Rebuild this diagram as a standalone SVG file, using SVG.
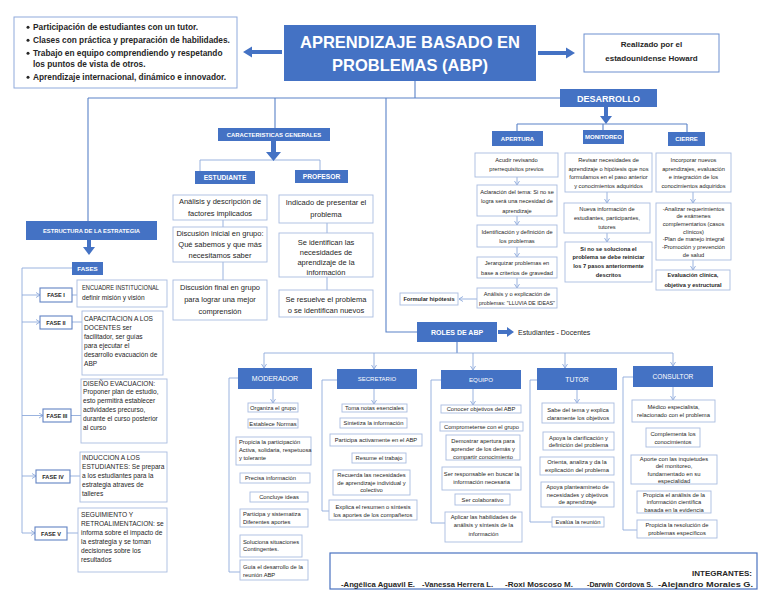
<svg xmlns="http://www.w3.org/2000/svg" width="768" height="594" viewBox="0 0 768 594">
<defs>
<style>
text{font-family:'Liberation Sans',Arial,sans-serif;fill:#262626}
.c{text-anchor:middle}
.w{fill:#fff;font-weight:bold}
.b{font-weight:bold}
.bx{fill:#fff;stroke:#a9bce0;stroke-width:0.9}
.fb{fill:#fff;stroke:#6283c4;stroke-width:1.1}
.hd{fill:#4472c4}
.ml{fill:none;stroke:#5a82c8;stroke-width:1.1}
.ln{fill:none;stroke:#8eaadb;stroke-width:0.9}
.ta{fill:#4472c4}
.s75{font-size:7.5px}
.s6{font-size:5.7px}
.s66{font-size:6.6px}
.s58{font-size:5.8px}
</style>
<marker id="ah" markerWidth="6" markerHeight="6" refX="5" refY="3" orient="auto" markerUnits="userSpaceOnUse">
<path d="M1,0.5 L5,3 L1,5.5" fill="none" stroke="#8eaadb" stroke-width="0.9"/>
</marker>
</defs>
<rect width="768" height="594" fill="#fff"/>

<g id="connectors">
<path class="ml" d="M415,81 V98 M88,98 H560 M88,98 V221 M275,98 V128 M386,98 V332 H417"/>
<path class="ml" d="M517,124 H687 M517,124 V131 M603,124 V130 M687,124 V132"/>
<path class="ln" d="M200,160 H320 M200,160 V171 M320,160 V170 M223,220 V227 M223,262 V280 M327,223 V233 M327,277 V290"/>
<path class="ln" marker-end="url(#ah)" d="M517,177 V185"/>
<path class="ln" marker-end="url(#ah)" d="M517,216 V225"/>
<path class="ln" marker-end="url(#ah)" d="M517,247 V257"/>
<path class="ln" marker-end="url(#ah)" d="M517,278 V288"/>
<path class="ln" marker-end="url(#ah)" d="M477,299 H459"/>
<path class="ln" marker-end="url(#ah)" d="M607,192 V203"/>
<path class="ln" marker-end="url(#ah)" d="M607,233 V242"/>
<path class="ln" marker-end="url(#ah)" d="M693,192 V203"/>
<path class="ln" marker-end="url(#ah)" d="M693,260 V270"/>
<path class="ln" d="M72,268 H22 V533"/>
<path class="ln" marker-end="url(#ah)" d="M22,295 H40"/>
<path class="ln" marker-end="url(#ah)" d="M22,322 H40"/>
<path class="ln" marker-end="url(#ah)" d="M22,415.5 H43"/>
<path class="ln" marker-end="url(#ah)" d="M22,476 H36"/>
<path class="ln" marker-end="url(#ah)" d="M22,533 H35"/>
<path class="ln" d="M72,295 H77 M72,322 H82 M71,415.5 H81 M70,476 H80 M67,533 H78"/>
<path class="ml" d="M457,342 V353"/>
<path class="ln" d="M264,353 H673"/>
<path class="ln" marker-end="url(#ah)" d="M264,353 V368"/>
<path class="ln" marker-end="url(#ah)" d="M374,353 V369"/>
<path class="ln" marker-end="url(#ah)" d="M473,353 V370"/>
<path class="ln" marker-end="url(#ah)" d="M565,353 V368"/>
<path class="ln" marker-end="url(#ah)" d="M673,353 V366"/>
<path class="ln" marker-end="url(#ah)" d="M273,389 V403"/>
<path class="ln" marker-end="url(#ah)" d="M374,389 V404"/>
<path class="ln" marker-end="url(#ah)" d="M473,389 V405"/>
<path class="ln" marker-end="url(#ah)" d="M577,390 V403"/>
<path class="ln" marker-end="url(#ah)" d="M673,387 V400"/>
<path class="ln" d="M238,378 H229 V572 H240 M337,380 H322 V511 H329 M441,380 H431 V523 H445 M537,380 H530 V522 H552 M633,377 H623 V530 H637"/>
<path class="ta" d="M282,50 H252 V46.5 L243,52 L252,57.5 V54 H282 Z"/>
<path class="ta" d="M538,51 H566 V47.5 L575,53 L566,58.5 V55 H538 Z"/>
<path class="ta" d="M604,107 H608 V116 H612 L606,124 L600,116 H604 Z"/>
<path class="ta" d="M271,141 H276 V152 H281 L273.5,161 L266,152 H271 Z"/>
<path class="ta" d="M87,240 H91 V247 H95 L89,255 L83,247 H87 Z"/>
<path class="ta" d="M498,330 H507 V327 L514,332 L507,337 V334 H498 Z"/>
</g>

<g id="intro">
<rect x="14" y="17" width="223" height="71" fill="#fff" stroke="#8faadc" stroke-width="1"/>
<g font-size="8.3" class="b">
<circle cx="28" cy="27.2" r="1.5" fill="#262626"/><text x="33" y="30" class="b">Participación de estudiantes con un tutor.</text>
<circle cx="28" cy="40.2" r="1.5" fill="#262626"/><text x="33" y="43" class="b">Clases con práctica y preparación de habilidades.</text>
<circle cx="28" cy="53.2" r="1.5" fill="#262626"/><text x="33" y="56" class="b">Trabajo en equipo comprendiendo y respetando</text>
<text x="33" y="67" class="b">los puntos de vista de otros.</text>
<circle cx="28" cy="77.2" r="1.5" fill="#262626"/><text x="33" y="80" class="b">Aprendizaje internacional, dinámico e innovador.</text>
</g>
</g>

<g id="title">
<rect x="284" y="25" width="252" height="56" class="hd"/>
<text x="410" y="47.5" class="c w" font-size="16.5">APRENDIZAJE BASADO EN</text>
<text x="410" y="70.5" class="c w" font-size="16.5">PROBLEMAS (ABP)</text>
</g>

<g id="autor">
<rect x="584" y="34" width="135" height="38" fill="#fff" stroke="#6d8fcf" stroke-width="1"/>
<text x="651.5" y="46.5" class="c b" font-size="8">Realizado por el</text>
<text x="651.5" y="61" class="c b" font-size="8">estadounidense Howard</text>
</g>

<g id="desarrollo">
<rect x="560" y="89" width="97" height="18" class="hd"/>
<text x="608.5" y="101.5" class="c w" font-size="9">DESARROLLO</text>
</g>
<g id="apertura">
<rect x="492" y="131" width="51" height="15" class="hd"/>
<text x="517.5" y="140.8" class="c w" font-size="6">APERTURA</text>
</g>
<g id="monitoreo">
<rect x="583" y="130" width="41" height="14" class="hd"/>
<text x="603.5" y="139.3" class="c w" font-size="6">MONITOREO</text>
</g>
<g id="cierre">
<rect x="668" y="132" width="37" height="14" class="hd"/>
<text x="686.5" y="141.3" class="c w" font-size="6">CIERRE</text>
</g>

<g id="a1"><rect x="475" y="153" width="83" height="24" class="bx"/>
<text class="c s6" x="516.5" y="162">Acudir revisando</text><text class="c s6" x="516.5" y="171">prerrequisitos previos</text></g>
<g id="a2"><rect x="477" y="185" width="80" height="31" class="bx"/>
<text class="c s6" x="517" y="193.7">Aclaración del tema: Si no se</text><text class="c s6" x="517" y="203.2">logra será una necesidad de</text><text class="c s6" x="517" y="212.7">aprendizaje</text></g>
<g id="a3"><rect x="477" y="225" width="80" height="22" class="bx"/>
<text class="c s6" x="517" y="233.7">Identificación y definición de</text><text class="c s6" x="517" y="243">los problemas</text></g>
<g id="a4"><rect x="477" y="257" width="80" height="21" class="bx"/>
<text class="c s6" x="517" y="265.3">Jerarquizar problemas en</text><text class="c s6" x="517" y="274.7">base a criterios de gravedad</text></g>
<g id="a5"><rect x="477" y="288" width="80" height="20" class="bx"/>
<text class="c s6" x="517" y="296">Análisis y o explicación de</text><text class="c s6" x="517" y="305.3" textLength="76" lengthAdjust="spacingAndGlyphs">problemas: "LLUVIA DE IDEAS"</text></g>
<g id="hipotesis"><rect x="400" y="293" width="58" height="12" class="bx"/>
<text class="c b" font-size="5.7" x="429" y="301">Formular hipótesis</text></g>

<g id="m1"><rect x="565" y="153" width="87" height="39" class="bx"/>
<text class="c s6" x="608.5" y="162">Revisar necesidades de</text><text class="c s6" x="608.5" y="170.7">aprendizaje o hipótesis que nos</text><text class="c s6" x="608.5" y="179.4">formulamos en el paso anterior</text><text class="c s6" x="608.5" y="188.1">y conocimientos adquiridos</text></g>
<g id="m2"><rect x="564" y="203" width="86" height="30" class="bx"/>
<text class="c s6" x="607" y="210.5">Nueva información de</text><text class="c s6" x="607" y="219.5">estudiantes, participantes,</text><text class="c s6" x="607" y="228.5">tutores</text></g>
<g id="m3"><rect x="565" y="242" width="87" height="40" class="bx"/>
<text class="c b s6" x="608.5" y="250.5">Si no se soluciona el</text><text class="c b s6" x="608.5" y="259.3">problema se debe reiniciar</text><text class="c b s6" x="608.5" y="268.1">los 7 pasos anteriormente</text><text class="c b s6" x="608.5" y="276.9">descritos</text></g>

<g id="c1"><rect x="656" y="153" width="75" height="39" class="bx"/>
<text class="c s6" x="693.5" y="162">Incorporar nuevos</text><text class="c s6" x="693.5" y="170.7">aprendizajes, evaluación</text><text class="c s6" x="693.5" y="179.4">e integración de los</text><text class="c s6" x="693.5" y="188.1">conocimientos adquiridos</text></g>
<g id="c2"><rect x="656" y="203" width="75" height="57" class="bx"/>
<text class="c s6" x="693.5" y="210.5">-Analizar requerimientos</text><text class="c s6" x="693.5" y="218.2">de exámenes</text><text class="c s6" x="693.5" y="225.9">complementarios (casos</text><text class="c s6" x="693.5" y="233.6">clínicos)</text><text class="c s6" x="693.5" y="241.3">-Plan de manejo integral</text><text class="c s6" x="693.5" y="249">-Promoción y prevención</text><text class="c s6" x="693.5" y="256.7">de salud</text></g>
<g id="c3"><rect x="656" y="270" width="74" height="20" class="bx"/>
<text class="c b s6" x="693" y="277.2">Evaluación clínica,</text><text class="c b s6" x="693" y="287">objetiva y estructural</text></g>

<g id="caracteristicas">
<rect x="218" y="128" width="112" height="13" class="hd"/>
<text x="274" y="136.7" class="c w" font-size="5.9">CARACTERISTICAS GENERALES</text>
</g>
<g id="estudiante">
<rect x="195" y="171" width="60" height="13" class="hd"/>
<text x="225" y="179.8" class="c w" font-size="6.7">ESTUDIANTE</text>
</g>
<g id="profesor">
<rect x="295" y="170" width="53" height="13" class="hd"/>
<text x="321.5" y="178.8" class="c w" font-size="6.7">PROFESOR</text>
</g>
<g id="e1"><rect x="173" y="195" width="94" height="25" class="bx"/>
<text class="c s75" x="220" y="204.4">Análisis y descripción de</text><text class="c s75" x="220" y="216.4">factores implicados</text></g>
<g id="e2"><rect x="173" y="227" width="94" height="35" class="bx"/>
<text class="c s75" x="220" y="236">Discusión inicial en grupo:</text><text class="c s75" x="220" y="247">Qué sabemos y que más</text><text class="c s75" x="220" y="258">necesitamos saber</text></g>
<g id="e3"><rect x="173" y="280" width="94" height="40" class="bx"/>
<text class="c s75" x="220" y="289.6">Discusión final en grupo</text><text class="c s75" x="220" y="301.6">para lograr una mejor</text><text class="c s75" x="220" y="313.6">comprensión</text></g>
<g id="p1"><rect x="279" y="195" width="94" height="28" class="bx"/>
<text class="c s75" x="326" y="204.5">Indicado de presentar el</text><text class="c s75" x="326" y="216.8">problema</text></g>
<g id="p2"><rect x="279" y="233" width="94" height="44" class="bx"/>
<text class="c s75" x="326" y="244.6">Se identifican las</text><text class="c s75" x="326" y="254.6">necesidades de</text><text class="c s75" x="326" y="264.6">aprendizaje de la</text><text class="c s75" x="326" y="274.6">información</text></g>
<g id="p3"><rect x="279" y="290" width="94" height="27" class="bx"/>
<text class="c s75" x="326" y="301.6">Se resuelve el problema</text><text class="c s75" x="326" y="313.2">o se identifican nuevos</text></g>

<g id="estructura">
<rect x="26" y="221" width="131" height="19" class="hd"/>
<text x="91.5" y="232.5" class="c w" font-size="5.8">ESTRUCTURA DE LA ESTRATEGIA</text>
</g>
<g id="fases">
<rect x="72" y="262" width="31" height="13" class="hd"/>
<text x="87.5" y="270.7" class="c w" font-size="6.2">FASES</text>
</g>
<g id="fase1"><rect x="40" y="288" width="32" height="14" class="fb"/><text class="c b" font-size="5.6" x="56" y="297">FASE I</text></g>
<g id="fase2"><rect x="40" y="316" width="32" height="13" class="fb"/><text class="c b" font-size="5.6" x="56" y="324.5">FASE II</text></g>
<g id="fase3"><rect x="43" y="409" width="28" height="13" class="fb"/><text class="c b" font-size="5.6" x="57" y="417.5">FASE III</text></g>
<g id="fase4"><rect x="36" y="470" width="34" height="13" class="fb"/><text class="c b" font-size="5.6" x="53" y="478.5">FASE IV</text></g>
<g id="fase5"><rect x="35" y="527" width="32" height="13" class="fb"/><text class="c b" font-size="5.6" x="51" y="535.5">FASE V</text></g>

<g id="ft1"><rect x="77" y="280" width="90" height="27" class="bx"/>
<text class="s66" x="82" y="290" textLength="77" lengthAdjust="spacingAndGlyphs">ENCUADRE INSTITUCIONAL</text><text class="s66" x="82" y="299.6">definir misión y visión</text></g>
<g id="ft2"><rect x="82" y="311" width="81" height="64" class="bx"/>
<text class="s66" x="84" y="320.6">CAPACITACION A LOS</text><text class="s66" x="84" y="329.6">DOCENTES ser</text><text class="s66" x="84" y="338.6">facilitador, ser guías</text><text class="s66" x="84" y="347.6">para ejecutar el</text><text class="s66" x="84" y="356.6">desarrollo evacuación de</text><text class="s66" x="84" y="365.6">ABP</text></g>
<g id="ft3"><rect x="81" y="379" width="86" height="64" class="bx"/>
<text class="s66" x="83" y="385.6">DISEÑO EVACUACION:</text><text class="s66" x="83" y="394.4">Proponer plan de estudio,</text><text class="s66" x="83" y="403.2">esto permitirá establecer</text><text class="s66" x="83" y="412">actividades  precurso,</text><text class="s66" x="83" y="420.8">durante el curso posterior</text><text class="s66" x="83" y="429.6">al curso</text></g>
<g id="ft4"><rect x="80" y="452" width="87" height="50" class="bx"/>
<text class="s66" x="82" y="459.6">INDUCCION A LOS</text><text class="s66" x="82" y="468.6">ESTUDIANTES: Se prepara</text><text class="s66" x="82" y="477.6">a los estudiantes para la</text><text class="s66" x="82" y="486.6">estrategia atraves de</text><text class="s66" x="82" y="495.6">talleres</text></g>
<g id="ft5"><rect x="78" y="508" width="89" height="64" class="bx"/>
<text class="s66" x="81" y="517.3">SEGUIMIENTO Y</text><text class="s66" x="81" y="526.3">RETROALIMENTACION: se</text><text class="s66" x="81" y="535.3">informa sobre el impacto de</text><text class="s66" x="81" y="544.3">la estrategia y se toman</text><text class="s66" x="81" y="553.3">decisiones sobre los</text><text class="s66" x="81" y="562.3">resultados</text></g>

<g id="roles">
<rect x="417" y="322" width="80" height="20" class="hd"/>
<text x="457" y="334.5" class="c w" font-size="7">ROLES DE ABP</text>
<text x="518" y="335" font-size="7">Estudiantes - Docentes</text>
</g>

<g id="moderador"><rect x="238" y="368" width="74" height="21" class="hd"/><text x="275" y="381" class="c" style="fill:#fff" font-size="7">MODERADOR</text></g>
<g id="secretario"><rect x="337" y="369" width="80" height="20" class="hd"/><text x="377" y="381" class="c" style="fill:#fff" font-size="6">SECRETARIO</text></g>
<g id="equipo"><rect x="441" y="370" width="80" height="19" class="hd"/><text x="481" y="381.8" class="c" style="fill:#fff" font-size="6.2">EQUIPO</text></g>
<g id="tutor"><rect x="537" y="368" width="80" height="22" class="hd"/><text x="577" y="381.5" class="c" style="fill:#fff" font-size="6.8">TUTOR</text></g>
<g id="consultor"><rect x="633" y="366" width="80" height="21" class="hd"/><text x="673" y="379" class="c" style="fill:#fff" font-size="6.6">CONSULTOR</text></g>

<g id="mo1"><rect x="248" y="403" width="50" height="9" class="bx"/><text class="c s58" x="273" y="409.6">Organiza el grupo</text></g>
<g id="mo2"><rect x="248" y="419" width="50" height="9" class="bx"/><text class="c s58" x="273" y="425.6">Establece Normas</text></g>
<g id="mo3"><rect x="236" y="437" width="75" height="28" class="bx"/><text class="s58" x="239" y="443.7">Propicia la participación</text><text class="s58" x="239" y="452">Activa, solidaria, respetuosa</text><text class="s58" x="239" y="460.3">y tolerante</text></g>
<g id="mo4"><rect x="240" y="473" width="70" height="10" class="bx"/><text class="s58" x="245" y="480">Precisa información</text></g>
<g id="mo5"><rect x="250" y="492" width="58" height="10" class="bx"/><text class="c s58" x="279" y="499">Concluye ideas</text></g>
<g id="mo6"><rect x="240" y="509" width="68" height="18" class="bx"/><text class="s58" x="243" y="516.2">Participa y sistematiza</text><text class="s58" x="243" y="524">Diferentes aportes</text></g>
<g id="mo7"><rect x="240" y="535" width="62" height="22" class="bx"/><text class="s58" x="243" y="543.7">Soluciona situaciones</text><text class="s58" x="243" y="551.4">Contingentes.</text></g>
<g id="mo8"><rect x="240" y="560" width="68" height="20" class="bx"/><text class="s58" x="243" y="568.5">Guía el desarrollo de la</text><text class="s58" x="243" y="576.5">reunión ABP</text></g>

<g id="se1"><rect x="342" y="404" width="65" height="8" class="bx"/><text class="c s58" x="374.5" y="410.1">Toma notas esenciales</text></g>
<g id="se2"><rect x="340" y="418" width="67" height="10" class="bx"/><text class="c s58" x="373.5" y="425">Sintetiza la información</text></g>
<g id="se3"><rect x="330" y="434" width="92" height="12" class="bx"/><text class="c s58" x="376" y="442">Participa activamente en el ABP</text></g>
<g id="se4"><rect x="352" y="453" width="54" height="10" class="bx"/><text class="c s58" x="379" y="460">Resume el trabajo</text></g>
<g id="se5"><rect x="333" y="470" width="77" height="25" class="bx"/><text class="c s58" x="371.5" y="477">Recuerda las necesidades</text><text class="c s58" x="371.5" y="484.7">de aprendizaje individual y</text><text class="c s58" x="371.5" y="492.4">colectivo</text></g>
<g id="se6"><rect x="329" y="500" width="88" height="20" class="bx"/><text class="c s58" x="373" y="508.5">Explica el resumen o síntesis</text><text class="c s58" x="373" y="516.5">los aportes de los compañeros</text></g>

<g id="eq1"><rect x="441" y="405" width="80" height="8" class="bx"/><text class="c s58" x="481" y="411.1">Conocer objetivos del ABP</text></g>
<g id="eq2"><rect x="440" y="422" width="83" height="9" class="bx"/><text class="c s58" x="481.5" y="428.6">Comprometerse con el grupo</text></g>
<g id="eq3"><rect x="446" y="435" width="74" height="25" class="bx"/><text class="c s58" x="483" y="443">Demostrar apertura para</text><text class="c s58" x="483" y="450.8">aprender de los demás y</text><text class="c s58" x="483" y="458.6">compartir conocimiento</text></g>
<g id="eq4"><rect x="442" y="467" width="79" height="23" class="bx"/><text class="c s58" x="481.5" y="475.6">Ser responsable en buscar la</text><text class="c s58" x="481.5" y="484.3">información necesaria</text></g>
<g id="eq5"><rect x="455" y="494" width="55" height="11" class="bx"/><text class="c s58" x="482.5" y="501.5">Ser colaborativo</text></g>
<g id="eq6"><rect x="445" y="512" width="77" height="30" class="bx"/><text class="c s58" x="483.5" y="519.2">Aplicar las habilidades de</text><text class="c s58" x="483.5" y="527.4">análisis y síntesis de la</text><text class="c s58" x="483.5" y="535.6">información</text></g>

<g id="tu1"><rect x="542" y="403" width="72" height="20" class="bx"/><text class="c s58" x="578" y="411.5">Sabe del tema y explica</text><text class="c s58" x="578" y="419.5">claramente los objetivos</text></g>
<g id="tu2"><rect x="543" y="432" width="71" height="18" class="bx"/><text class="c s58" x="578.5" y="439.5">Apoya la clarificación y</text><text class="c s58" x="578.5" y="447.3">definición del problema</text></g>
<g id="tu3"><rect x="540" y="457" width="74" height="18" class="bx"/><text class="c s58" x="577" y="464.3">Orienta, analiza y da la</text><text class="c s58" x="577" y="472">explicación del problema</text></g>
<g id="tu4"><rect x="541" y="482" width="73" height="25" class="bx"/><text class="c s58" x="577.5" y="489">Apoya planteamineto de</text><text class="c s58" x="577.5" y="496.7">necesidades y objetivos</text><text class="c s58" x="577.5" y="504.4">de aprendizaje</text></g>
<g id="tu5"><rect x="552" y="517" width="52" height="10" class="bx"/><text class="c s58" x="578" y="524">Evalúa la reunión</text></g>

<g id="co1"><rect x="632" y="400" width="83" height="22" class="bx"/><text class="c s58" x="673.5" y="409.3">Médico especialista,</text><text class="c s58" x="673.5" y="417.3">relacionado con el problema</text></g>
<g id="co2"><rect x="646" y="428" width="54" height="19" class="bx"/><text class="c s58" x="673" y="435.8">Complementa los</text><text class="c s58" x="673" y="443.6">conocimientos</text></g>
<g id="co3"><rect x="631" y="455" width="86" height="29" class="bx"/><text class="c s58" x="674" y="460.5">Aporte con las inquietudes</text><text class="c s58" x="674" y="468">del monitoreo,</text><text class="c s58" x="674" y="475.5">fundamentado en su</text><text class="c s58" x="674" y="483">especialidad</text></g>
<g id="co4"><rect x="637" y="491" width="74" height="22" class="bx"/><text class="c s58" x="674" y="496.7">Propicia el análisis de la</text><text class="c s58" x="674" y="504.2">información científica</text><text class="c s58" x="674" y="511.7">basada en la evidencia</text></g>
<g id="co5"><rect x="637" y="520" width="80" height="18" class="bx"/><text class="c s58" x="677" y="527.3">Propicia la resolución de</text><text class="c s58" x="677" y="535.1">problemas específicos</text></g>

<g id="integrantes">
<rect x="330" y="553" width="427" height="36" fill="#fff" stroke="#4a72c0" stroke-width="1.2"/>
<text x="752" y="576" class="b" font-size="8" text-anchor="end">INTEGRANTES:</text>
<text x="341" y="586.5" class="b" font-size="8" textLength="74" lengthAdjust="spacingAndGlyphs">-Angélica Aguavil E.</text>
<text x="422" y="586.5" class="b" font-size="8" textLength="71" lengthAdjust="spacingAndGlyphs">-Vanessa Herrera L.</text>
<text x="505" y="586.5" class="b" font-size="8" textLength="68" lengthAdjust="spacingAndGlyphs">-Roxi Moscoso M.</text>
<text x="587" y="586.5" class="b" font-size="8" textLength="66" lengthAdjust="spacingAndGlyphs">-Darwin Córdova S.</text>
<text x="658" y="586.5" class="b" font-size="8" textLength="95" lengthAdjust="spacingAndGlyphs">-Alejandro Morales G.</text>
</g>
</svg>
